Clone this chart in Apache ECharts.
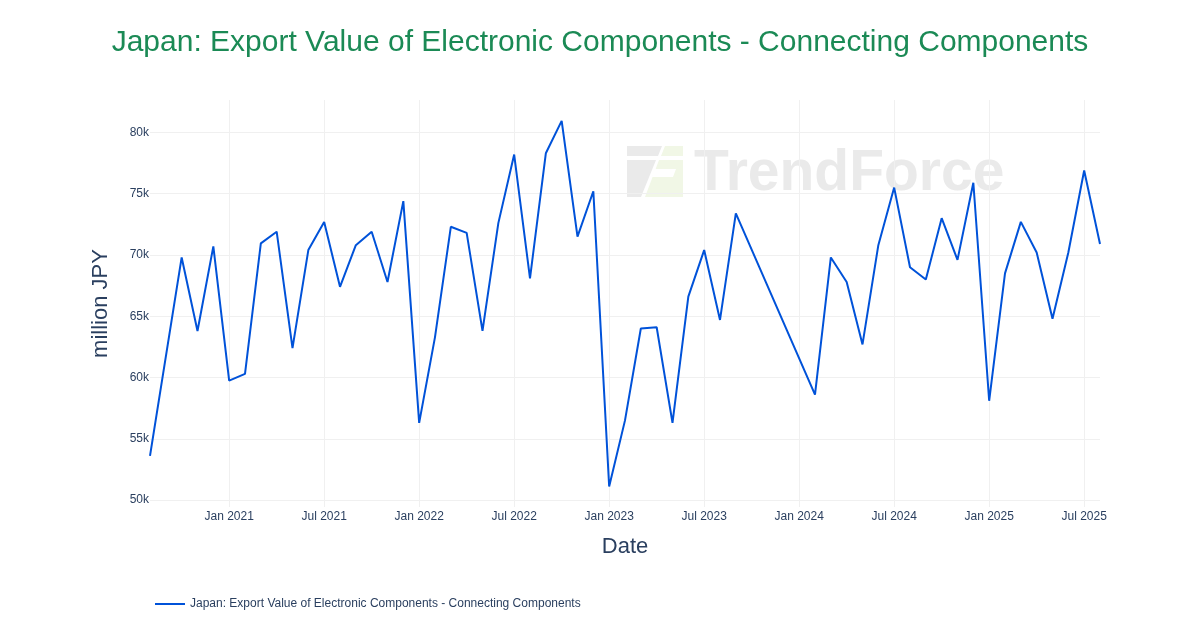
<!DOCTYPE html>
<html>
<head>
<meta charset="utf-8">
<script src="https://cdn.jsdelivr.net/npm/echarts@6/dist/echarts.min.js"></script>
<style>
  html, body { margin: 0; padding: 0; background: #ffffff; }
  #chart { width: 1200px; height: 630px; }
</style>
</head>
<body>
<div id="chart"></div>
<script>
// ---- Data (million JPY), monthly; null = month not reported ----
const chartTitle = 'Japan: Export Value of Electronic Components - Connecting Components';
const seriesName = 'Japan: Export Value of Electronic Components - Connecting Components';
const months = [
  '2020-08','2020-09','2020-10','2020-11','2020-12',
  '2021-01','2021-02','2021-03','2021-04','2021-05','2021-06','2021-07','2021-08','2021-09','2021-10','2021-11','2021-12',
  '2022-01','2022-02','2022-03','2022-04','2022-05','2022-06','2022-07','2022-08','2022-09','2022-10','2022-11','2022-12',
  '2023-01','2023-02','2023-03','2023-04','2023-05','2023-06','2023-07','2023-08','2023-09','2023-10','2023-11','2023-12',
  '2024-01','2024-02','2024-03','2024-04','2024-05','2024-06','2024-07','2024-08','2024-09','2024-10','2024-11','2024-12',
  '2025-01','2025-02','2025-03','2025-04','2025-05','2025-06','2025-07','2025-08'
];
const exportValues = [
  53600, null, 69800, 63800, 70700,
  59750, 60300, 70950, 71900, 62400, 70400, 72700, 67400, 70800, 71900, 67800, 74400,
  56300, 63300, 72300, 71800, 63800, 72600, 78200, 68100, 78300, 80950, 71500, 75200,
  51100, 56500, 64000, 64100, 56300, 66600, 70400, 64700, 73400, null, null, null,
  null, 58600, 69800, 67800, 62700, 70800, 75500, 69000, 68000, 73000, 69600, 75900,
  58100, 68500, 72700, 70200, 64800, 70200, 76900, 70900
];
const monthNames = ['Jan','Feb','Mar','Apr','May','Jun','Jul','Aug','Sep','Oct','Nov','Dec'];
const tickMonths = ['01', '07'];
const xAxisTitle = 'Date';
const yAxisTitle = 'million JPY';
const yMin = 49430;
const yMax = 82650;

const FONT = '"Liberation Sans", Arial, Helvetica, sans-serif';
const AXIS_TEXT = '#2a3f5f';
const GRID_COLOR = '#f0f0f0';
const LINE_COLOR = '#0052d9';
const WM_GREY = '#eaeaea';
const WM_GREEN = '#f1f7e6';

function isTickMonth(val) { return tickMonths.indexOf(val.slice(5, 7)) >= 0; }
function monthLabel(val) { return monthNames[parseInt(val.slice(5, 7), 10) - 1] + ' ' + val.slice(0, 4); }

const chart = echarts.init(document.getElementById('chart'), null, { renderer: 'canvas' });
const option = {
  animation: false,
  backgroundColor: '#ffffff',
  textStyle: { fontFamily: FONT },
  title: {
    text: chartTitle,
    left: 'center',
    top: 23,
    textStyle: { fontFamily: FONT, fontSize: 30, fontWeight: 'normal', color: '#1b8a55' }
  },
  graphic: [
    // faint TrendForce watermark
    { type: 'polygon', z: 0, silent: true, shape: { points: [[627,146],[662,146],[658,156],[627,156]] }, style: { fill: WM_GREY } },
    { type: 'polygon', z: 0, silent: true, shape: { points: [[627,160],[656,160],[641,197],[627,197]] }, style: { fill: WM_GREY } },
    { type: 'polygon', z: 0, silent: true, shape: { points: [[665,146],[683,146],[683,156],[661,156]] }, style: { fill: WM_GREEN } },
    { type: 'polygon', z: 0, silent: true, shape: { points: [[659,160],[683,160],[683,197],[645,197]] }, style: { fill: WM_GREEN } },
    { type: 'polygon', z: 0, silent: true, shape: { points: [[655,169],[676,169],[673,177],[652,177]] }, style: { fill: '#ffffff' } },
    { type: 'text', z: 0, silent: true, left: 694, top: 146,
      style: { text: 'TrendForce', fontFamily: FONT, fontSize: 57, fontWeight: 'bold', fill: WM_GREY } }
  ],
  grid: { left: 150, right: 100, top: 100, bottom: 123, containLabel: false },
  legend: {
    left: 150,
    top: 593,
    itemWidth: 30,
    itemHeight: 14,
    icon: 'path://M0,6 L30,6 L30,8 L0,8 Z',
    textStyle: { fontFamily: FONT, fontSize: 12, color: AXIS_TEXT },
    data: [seriesName]
  },
  xAxis: {
    type: 'category',
    data: months,
    boundaryGap: false,
    name: xAxisTitle,
    nameLocation: 'middle',
    nameGap: 29,
    nameTextStyle: { fontFamily: FONT, fontSize: 22, color: AXIS_TEXT },
    axisLine: { show: false },
    axisTick: { show: false },
    axisLabel: {
      interval: function (i, val) { return isTickMonth(val); },
      formatter: function (val) { return monthLabel(val); },
      fontFamily: FONT, fontSize: 12, color: AXIS_TEXT, margin: 4
    },
    splitLine: {
      show: true,
      interval: function (i, val) { return isTickMonth(val); },
      lineStyle: { color: GRID_COLOR, width: 1 }
    }
  },
  yAxis: {
    type: 'value',
    min: yMin,
    max: yMax,
    splitNumber: 5,
    name: yAxisTitle,
    nameLocation: 'middle',
    nameGap: 38,
    nameTextStyle: { fontFamily: FONT, fontSize: 22, color: AXIS_TEXT },
    axisLine: { show: false },
    axisTick: { show: false },
    axisLabel: {
      showMinLabel: false,
      showMaxLabel: false,
      formatter: function (v) { return (v % 5000 === 0) ? (v / 1000) + 'k' : ''; },
      fontFamily: FONT, fontSize: 12, color: AXIS_TEXT, margin: 1
    },
    splitLine: {
      show: true,
      showMinLine: false,
      showMaxLine: false,
      lineStyle: { color: GRID_COLOR, width: 1 }
    }
  },
  series: [{
    name: seriesName,
    type: 'line',
    data: exportValues,
    connectNulls: true,
    symbol: 'none',
    lineStyle: { color: LINE_COLOR, width: 2 },
    itemStyle: { color: LINE_COLOR },
    z: 3
  }]
};
chart.setOption(option);
</script>
</body>
</html>
